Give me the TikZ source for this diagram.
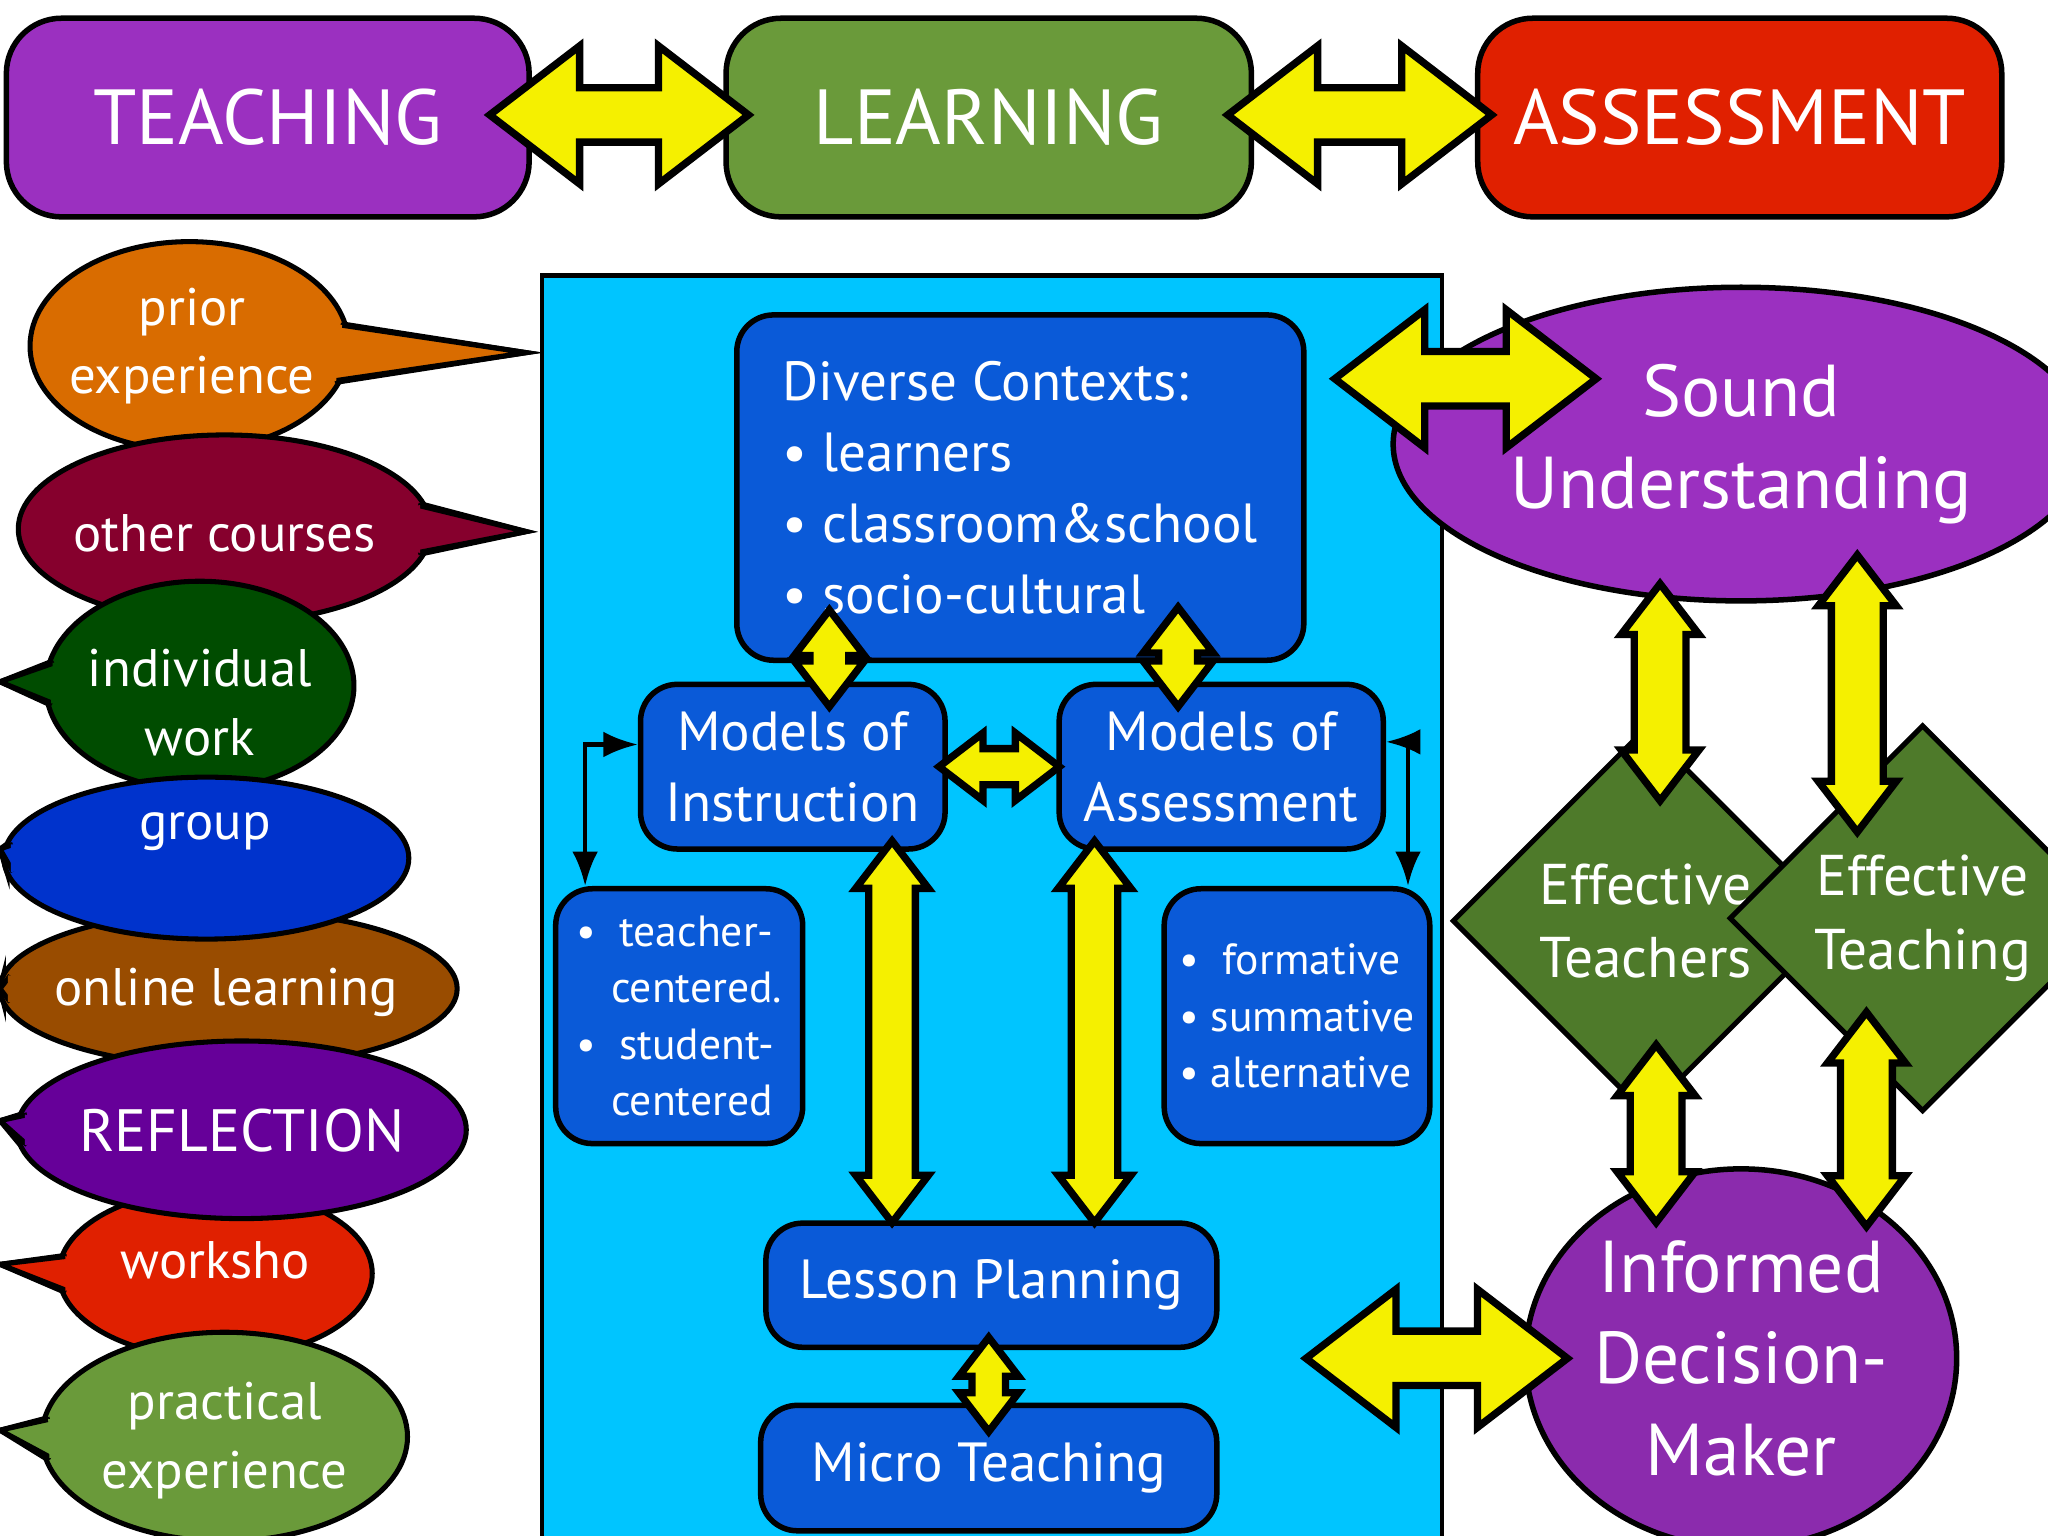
\documentclass[tikz,border=0pt]{standalone}
\usepackage{fontspec}
\setmainfont{PT Sans}
\usetikzlibrary{shapes.arrows,shapes.geometric,calc,arrows.meta}
\definecolor{cpurple}{HTML}{9B30C0}
\definecolor{cgreen}{HTML}{6A9A3A}
\definecolor{cred}{HTML}{E02000}
\definecolor{ccyan}{HTML}{00C5FF}
\definecolor{cblue}{HTML}{0A5AD8}
\definecolor{cdgreen}{HTML}{4E7A2A}
\definecolor{cyel}{HTML}{F5F000}
\tikzset{
 topbox/.style={draw=black,line width=1.2pt,rounded corners=12pt,text=white,font=\fontsize{17}{20}\selectfont},
 bbox/.style={draw=black,line width=1.2pt,fill=cblue,rounded corners=8pt,text=white},
 dbl/.style={double arrow,draw=black,line width=1.6pt,fill=cyel,double arrow tip angle=75,double arrow head extend=#1},
 wt/.style={text=white,align=center},
 bub/.style={draw=black,line width=1.1pt},
}
\newcommand{\DA}[7]{\node[dbl=#6cm,inner sep=#5cm,minimum height=#3cm,rotate=#4] (#7) at (#1,#2) {};}
\newcommand{\Bub}[9]{% cx cy rx ry color tipx tipy angle1 angle2
 \fill[#5] (#1,#2) ellipse [x radius=#3,y radius=#4];
 \filldraw[bub,fill=#5] ($(#1,#2)+(#8:#3 and #4)$) -- (#6,#7) -- ($(#1,#2)+(#9:#3 and #4)$) -- cycle;
 \draw[bub,fill=#5] (#1,#2) ellipse [x radius=#3,y radius=#4];
 \filldraw[bub,fill=#5] ($(#1,#2)+(#8:#3*0.97 and #4*0.97)$) -- (#6,#7) -- ($(#1,#2)+(#9:#3*0.97 and #4*0.97)$);
 \fill[#5] ($(#1,#2)+(#8:#3*0.9 and #4*0.9)$) -- ($(#1,#2)+(#8:#3*0.98 and #4*0.98)$) -- ($(#1,#2)+(#9:#3*0.98 and #4*0.98)$) -- ($(#1,#2)+(#9:#3*0.9 and #4*0.9)$) -- cycle;
}
\begin{document}
\begin{tikzpicture}[x=0.01cm,y=-0.01cm]
\useasboundingbox (0,0) rectangle (1568,1176);
\fill[white] (0,0) rectangle (1568,1176);
% top
\node[topbox,fill=cpurple,minimum width=4cm,minimum height=1.52cm] (teach) at (205,90) {TEACHING};
\node[topbox,fill=cgreen,minimum width=4.02cm,minimum height=1.52cm] (learn) at (757,90) {LEARNING};
\node[topbox,fill=cred,minimum width=4.01cm,minimum height=1.52cm] (assess) at (1332,90) {ASSESSMENT};
\DA{474}{88}{1.98}{0}{0.18}{0.32}{a1}
\DA{1041}{88}{2.02}{0}{0.18}{0.32}{a2}
% panel
\filldraw[fill=ccyan,draw=black,line width=1pt] (415,211) rectangle (1104,1180);
% bubbles
\Bub{145}{265}{122}{80}{orange!85!black}{403}{270}{-12}{20}
\node[wt,font=\fontsize{11.5}{15}\selectfont] (prior) at (147,265) {prior\\experience};
\Bub{172}{405}{158}{72}{purple!70!black}{403}{407}{-15}{15}
\node[wt,font=\fontsize{11.5}{15}\selectfont] (other) at (172,408) {other courses};
\Bub{153}{525}{118}{80}{green!30!black}{0}{522}{170}{193}
\node[wt,font=\fontsize{11.5}{15}\selectfont] (indiv) at (153,538) {individual\\work};
\Bub{175}{757}{175}{60}{orange!60!black}{0}{757}{170}{190}
\node[wt,font=\fontsize{11.5}{15}\selectfont] (online) at (173,760) {online learning};
\Bub{158}{657}{155}{62}{blue!75!cyan!80!black}{0}{650}{170}{190}
\node[wt,font=\fontsize{11.5}{15}\selectfont] (group) at (157,637) {group};
\Bub{165}{975}{120}{65}{cred}{0}{968}{168}{192}
\node[wt,font=\fontsize{11.5}{15}\selectfont] (work) at (165,965) {worksho};
\Bub{185}{865}{172}{68}{violet!80!blue}{0}{858}{170}{190}
\node[wt,font=\fontsize{13}{15}\selectfont] (refl) at (185,866) {REFLECTION};
\Bub{172}{1100}{140}{80}{cgreen}{0}{1095}{168}{190}
\node[wt,font=\fontsize{11.5}{15}\selectfont] (pract) at (172,1103) {practical\\experience};
% inner boxes
\node[bbox,minimum width=3.91cm,minimum height=2.39cm,align=left,anchor=north west,inner sep=10pt,font=\fontsize{12}{15.5}\selectfont] (div) at (562,239) {Diverse Contexts:\\ \textbullet\ learners\\ \textbullet\ classroom\&school\\ \textbullet\ socio-cultural};
\node[bbox,minimum width=2.33cm,minimum height=1.26cm,align=center,font=\fontsize{12}{15.5}\selectfont] (mi) at (607,587) {Models of\\Instruction};
\node[bbox,minimum width=2.48cm,minimum height=1.26cm,align=center,font=\fontsize{12}{15.5}\selectfont] (ma) at (935,587) {Models of\\Assessment};
\node[bbox,minimum width=1.89cm,minimum height=1.95cm,align=left,font=\fontsize{9.5}{12.3}\selectfont] (tc) at (520,778) {\textbullet\ \ teacher-\\\ \ \ centered.\\\textbullet\ \ student-\\\ \ \ centered};
\node[bbox,minimum width=2.03cm,minimum height=1.95cm,align=left,font=\fontsize{9.5}{12.3}\selectfont] (fs) at (993,778) {\textbullet\ \ formative\\\textbullet\ summative\\\textbullet\ alternative};
\node[bbox,minimum width=3.45cm,minimum height=0.95cm,font=\fontsize{12}{15}\selectfont] (lp) at (759,984) {Lesson Planning};
\node[bbox,minimum width=3.49cm,minimum height=0.96cm,font=\fontsize{12}{15}\selectfont] (mt) at (757,1124) {Micro Teaching};
\draw[line width=1pt,{Latex}-{Latex}] (mi.west|-0,570) -| (tc.north-|448,0);
\draw[line width=1pt,{Latex}-{Latex}] (ma.east|-0,568) -| (fs.north-|1078,0);
% right
\node[ellipse,draw=black,line width=1.2pt,fill=cpurple,minimum width=4cm,minimum height=2.4cm,wt,font=\fontsize{16}{20}\selectfont] (su) at (1333,340) {Sound\\Understanding};
\node[diamond,draw=black,line width=1.1pt,fill=cdgreen,minimum width=2.96cm,minimum height=2.96cm,wt,inner sep=0pt,font=\fontsize{12.5}{16}\selectfont] (et) at (1260,705) {Effective\\Teachers};
\node[diamond,draw=black,line width=1.1pt,fill=cdgreen,minimum width=2.96cm,minimum height=2.96cm,wt,inner sep=0pt,font=\fontsize{12.5}{16}\selectfont] (eg) at (1472,703) {Effective\\Teaching};
\node[ellipse,draw=black,line width=1.2pt,fill=cpurple!90!black,minimum width=3.3cm,minimum height=2.9cm,wt,inner sep=0pt,font=\fontsize{16}{20}\selectfont] (idm) at (1333,1040) {Informed\\Decision-\\Maker};
% arrows
\DA{1122}{290}{2.0}{0}{0.18}{0.32}{a3}
\DA{1100}{1040}{2.0}{0}{0.18}{0.32}{a4}
\DA{1271}{530}{1.66}{90}{0.17}{0.1}{a5}
\DA{1422}{531}{2.12}{90}{0.17}{0.1}{a6}
\DA{1268}{868}{1.36}{90}{0.17}{0.1}{a7}
\DA{1429}{857}{1.64}{90}{0.17}{0.1}{a8}
\DA{635}{504}{0.74}{90}{0.12}{0.12}{a9}
\DA{902}{503}{0.76}{90}{0.12}{0.12}{a10}
\DA{765}{587}{0.92}{0}{0.11}{0.12}{a11}
\DA{683}{790}{2.92}{90}{0.15}{0.1}{a12}
\DA{838}{790}{2.92}{90}{0.15}{0.1}{a13}
\DA{757}{1060}{0.72}{90}{0.1}{0.1}{a14}
\end{tikzpicture}
\end{document}
